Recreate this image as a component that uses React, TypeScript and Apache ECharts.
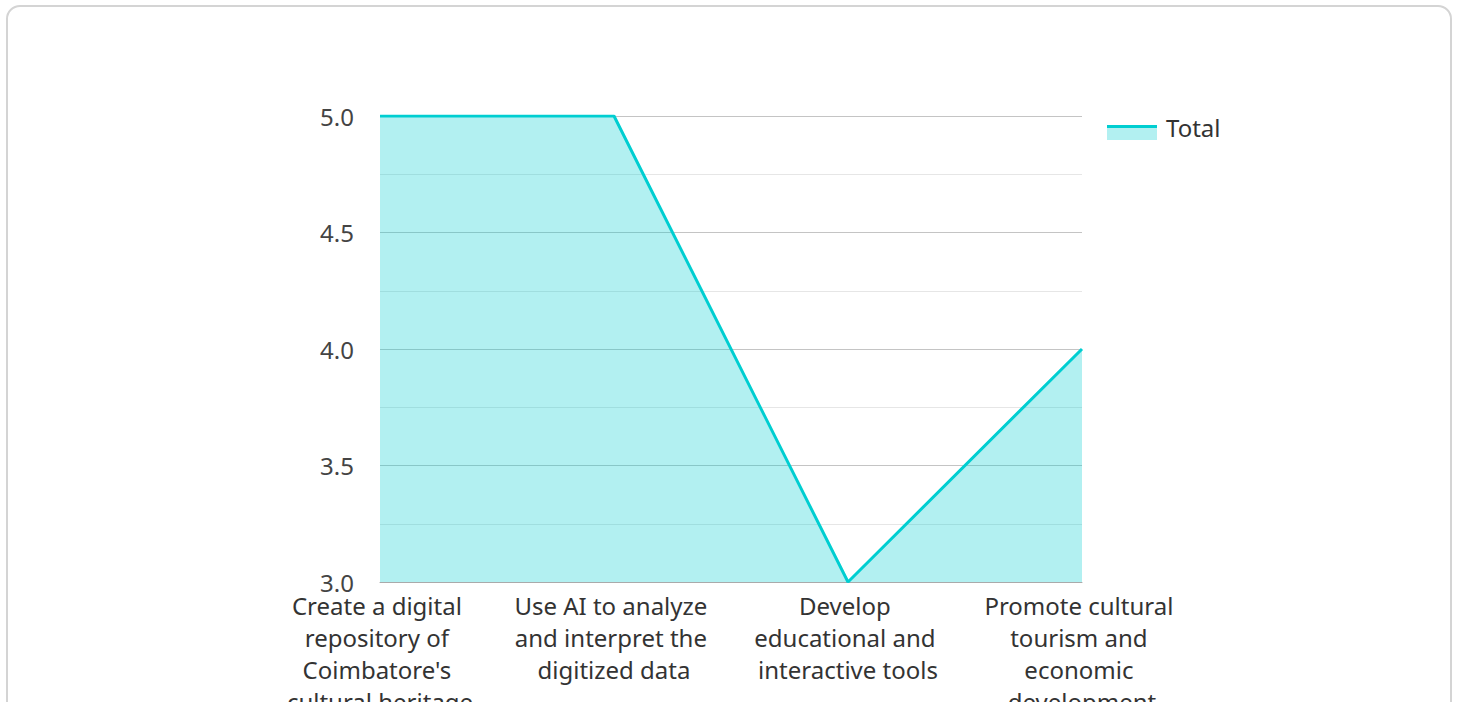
import React, { useEffect, useRef } from "react";
import * as echarts from "echarts";

const categories = [
  "Create a digital repository of Coimbatore's cultural heritage",
  "Use AI to analyze and interpret the digitized data",
  "Develop educational and interactive tools",
  "Promote cultural tourism and economic development",
];
const totalValues = [5, 5, 3, 4];
const seriesName = "Total";
const yMin = 3;
const yMax = 5;
const yInterval = 0.5;

const LINE = "#00CED1";
const FILL = "rgba(0,206,209,0.3)";
const FONT = "'Noto Sans', sans-serif";

export default function App() {
  const ref = useRef<HTMLDivElement>(null);
  useEffect(() => {
    if (!ref.current) return;
    const chart = echarts.init(ref.current, null, { renderer: "svg" });
    chart.setOption({
      animation: false,
      textStyle: { fontFamily: FONT },
      grid: {
        left: 380,
        top: 116,
        width: 702,
        height: 466,
        containLabel: false,
        outerBoundsMode: "none",
      },
      legend: { show: false },
      graphic: [
        {
          type: "rect",
          shape: { x: 1107, y: 125, width: 50, height: 15 },
          style: { fill: FILL },
        },
        {
          type: "line",
          shape: { x1: 1107, y1: 126.5, x2: 1157, y2: 126.5 },
          style: { stroke: LINE, lineWidth: 3 },
        },
        {
          type: "text",
          x: 1166,
          y: 127,
          style: {
            text: seriesName,
            font: `24px ${FONT}`,
            fill: "#333",
            verticalAlign: "middle",
            align: "left",
          },
        },
      ],
      xAxis: {
        type: "category",
        data: categories,
        boundaryGap: false,
        axisLine: { show: true, lineStyle: { color: "#aaaaaa", width: 1 } },
        axisTick: { show: false },
        splitLine: { show: false },
        axisLabel: {
          color: "#333",
          fontSize: 24,
          lineHeight: 32,
          margin: 7,
          width: 215,
          overflow: "break",
          interval: 0,
          fontFamily: FONT,
        },
      },
      yAxis: {
        type: "value",
        min: yMin,
        max: yMax,
        interval: yInterval,
        axisLine: { show: false },
        axisTick: { show: false },
        axisLabel: {
          color: "#444",
          fontSize: 24,
          margin: 26,
          fontFamily: FONT,
          formatter: (v: number) => v.toFixed(1),
        },
        splitLine: { show: true, lineStyle: { color: "#c4c4c4", width: 1 } },
        minorTick: { show: false, splitNumber: 2 },
        minorSplitLine: { show: true, lineStyle: { color: "#e6e6e6", width: 1 } },
      },
      series: [
        {
          name: seriesName,
          type: "line",
          data: totalValues,
          symbol: "none",
          lineStyle: { color: LINE, width: 3 },
          itemStyle: { color: LINE },
          areaStyle: { color: FILL, opacity: 1, origin: "start" },
        },
      ],
    });
    return () => chart.dispose();
  }, []);

  return (
    <div style={{ position: "fixed", left: 0, top: 0, width: 1458, height: 702, overflow: "hidden", background: "#fff" }}>
      <div
        style={{
          position: "absolute",
          left: 6,
          top: 5,
          width: 1446,
          height: 780,
          border: "2px solid #d4d4d4",
          borderRadius: 14,
          boxSizing: "border-box",
        }}
      />
      <div ref={ref} style={{ position: "absolute", left: 0, top: 0, width: 1458, height: 702 }} />
    </div>
  );
}
